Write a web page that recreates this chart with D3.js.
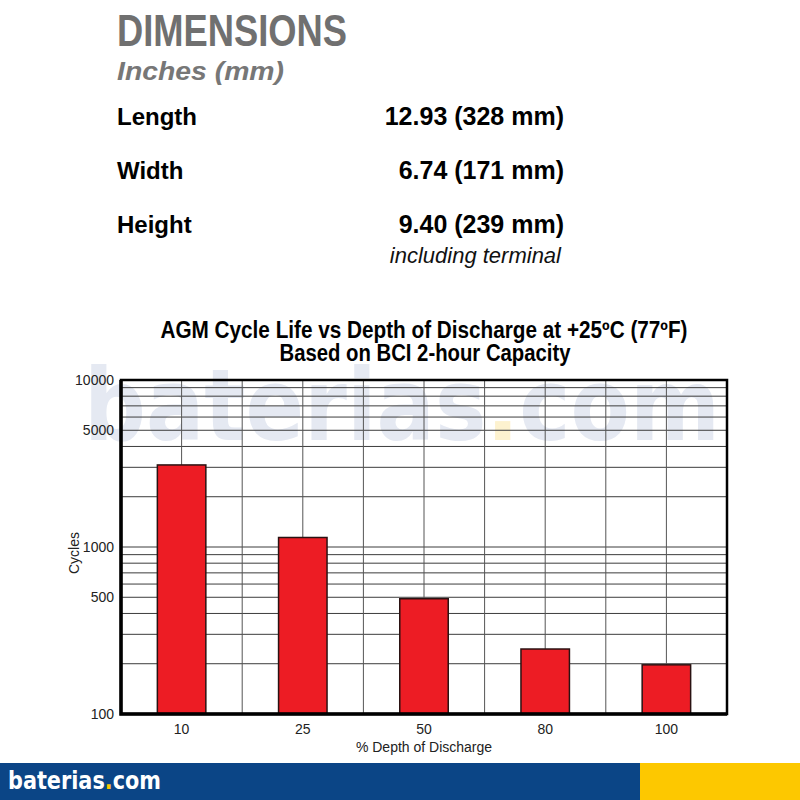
<!DOCTYPE html>
<html lang="es">
<head>
  <meta charset="utf-8" />
  <style>
    body { margin: 0; background: #fff; }
    svg { display: block; }
  </style>
</head>
<body>
<script src="https://cdn.jsdelivr.net/npm/d3@7"></script>
<script>

// data
const depth = ['10', '25', '50', '80', '100'];
const cycles = [3100, 1140, 490, 245, 197];
const yTickLabels = [100, 500, 1000, 5000, 10000];

const dimNames = ['Length', 'Width', 'Height'];
const dimValues = ['12.93 (328 mm)', '6.74 (171 mm)', '9.40 (239 mm)'];

const width = 800;
const height = 800;
const plot = { left: 121, right: 727, top: 380, bottom: 714 };

const narrow = '"Liberation Sans Narrow", "Arial Narrow", "Liberation Sans", sans-serif';
const arial = '"Liberation Sans", Arial, sans-serif';

const svg = d3.select('body')
  .append('svg')
  .attr('width', width)
  .attr('height', height);

// header block
svg.append('text')
  .attr('x', 117).attr('y', 46)
  .attr('font-family', arial).attr('font-weight', 'bold')
  .attr('font-size', 44).attr('fill', '#707070')
  .attr('textLength', 230).attr('lengthAdjust', 'spacingAndGlyphs')
  .text('DIMENSIONS');

svg.append('text')
  .attr('x', 117).attr('y', 80)
  .attr('font-family', arial).attr('font-weight', 'bold').attr('font-style', 'italic')
  .attr('font-size', 26).attr('fill', '#777')
  .attr('textLength', 167).attr('lengthAdjust', 'spacingAndGlyphs')
  .text('Inches (mm)');

dimNames.forEach((name, i) => {
  const yy = 125 + i * 54;
  svg.append('text')
    .attr('x', 117).attr('y', yy)
    .attr('font-family', arial).attr('font-weight', 'bold')
    .attr('font-size', 24).attr('fill', '#000')
    .text(name);
  svg.append('text')
    .attr('x', 564).attr('y', yy)
    .attr('text-anchor', 'end')
    .attr('font-family', arial).attr('font-weight', 'bold')
    .attr('font-size', 25).attr('fill', '#000')
    .text(dimValues[i]);
});

svg.append('text')
  .attr('x', 561).attr('y', 263)
  .attr('text-anchor', 'end')
  .attr('font-family', arial).attr('font-style', 'italic')
  .attr('font-size', 22).attr('fill', '#111')
  .text('including terminal');

// watermark behind the chart
const wm = svg.append('text')
  .attr('x', 84).attr('y', 440)
  .attr('font-family', '"DejaVu Sans", sans-serif').attr('font-weight', 'bold')
  .attr('font-size', 100).attr('fill', '#e5e9f2')
  .attr('textLength', 636).attr('lengthAdjust', 'spacingAndGlyphs');
wm.append('tspan').text('baterias');
wm.append('tspan').attr('fill', '#fdf2cf').text('.');
wm.append('tspan').text('com');

// chart title
svg.append('text')
  .attr('x', 424).attr('y', 338)
  .attr('text-anchor', 'middle')
  .attr('font-family', narrow).attr('font-weight', 'bold')
  .attr('font-size', 23).attr('fill', '#000')
  .attr('textLength', 527).attr('lengthAdjust', 'spacingAndGlyphs')
  .text('AGM Cycle Life vs Depth of Discharge at +25ºC (77ºF)');

svg.append('text')
  .attr('x', 425).attr('y', 361)
  .attr('text-anchor', 'middle')
  .attr('font-family', narrow).attr('font-weight', 'bold')
  .attr('font-size', 23).attr('fill', '#000')
  .attr('textLength', 291).attr('lengthAdjust', 'spacingAndGlyphs')
  .text('Based on BCI 2-hour Capacity');

// scales
const x = d3.scaleBand()
  .domain(depth)
  .range([plot.left, plot.right]);

const y = d3.scaleLog()
  .domain([100, 10000])
  .range([plot.bottom, plot.top]);

const g = svg.append('g');

// horizontal grid (every minor log step)
g.selectAll('line.hgrid')
  .data(y.ticks().filter(d => d > 100 && d < 10000))
  .enter()
  .append('line')
  .attr('class', 'hgrid')
  .attr('x1', plot.left).attr('x2', plot.right)
  .attr('y1', d => y(d)).attr('y2', d => y(d))
  .attr('stroke', '#3c3c3c').attr('stroke-width', 1);

// vertical grid at band edges and centres
const vlines = depth.slice(1).map(d => x(d)).concat(depth.map(d => x(d) + x.bandwidth() / 2));
g.selectAll('line.vgrid')
  .data(vlines)
  .enter()
  .append('line')
  .attr('class', 'vgrid')
  .attr('x1', d => d).attr('x2', d => d)
  .attr('y1', plot.top).attr('y2', plot.bottom)
  .attr('stroke', '#555').attr('stroke-width', 1);

// bars
const barW = x.bandwidth() * 0.4;
g.selectAll('rect.bar')
  .data(depth.map((d, i) => ({ depth: d, cycles: cycles[i] })))
  .enter()
  .append('rect')
  .attr('class', 'bar')
  .attr('x', d => x(d.depth) + (x.bandwidth() - barW) / 2)
  .attr('y', d => y(d.cycles))
  .attr('width', barW)
  .attr('height', d => plot.bottom - y(d.cycles))
  .attr('fill', '#ed1c24')
  .attr('stroke', '#2a1212').attr('stroke-width', 1.5);

// frame
g.append('rect')
  .attr('x', plot.left).attr('y', plot.top)
  .attr('width', plot.right - plot.left).attr('height', plot.bottom - plot.top)
  .attr('fill', 'none').attr('stroke', '#000').attr('stroke-width', 2.5);

g.append('path')
  .attr('d', `M${plot.left},${plot.top}V${plot.bottom}H${plot.right}`)
  .attr('fill', 'none').attr('stroke', '#000').attr('stroke-width', 3.5);

// axes
const yAxis = svg.append('g')
  .attr('transform', `translate(${plot.left - 2}, 0)`)
  .call(d3.axisLeft(y).tickValues(yTickLabels).tickFormat(d3.format('d')).tickSize(0).tickPadding(5));
yAxis.select('.domain').remove();
yAxis.selectAll('text')
  .attr('font-family', narrow).attr('font-size', 14).attr('fill', '#222');

const xAxis = svg.append('g')
  .attr('transform', `translate(0, ${plot.bottom + 2})`)
  .call(d3.axisBottom(x).tickSize(0).tickPadding(8));
xAxis.select('.domain').remove();
xAxis.selectAll('text')
  .attr('font-family', narrow).attr('font-size', 14).attr('fill', '#222');

svg.append('text')
  .attr('x', 424).attr('y', 752)
  .attr('text-anchor', 'middle')
  .attr('font-family', narrow).attr('font-size', 14).attr('fill', '#222')
  .text('% Depth of Discharge');

svg.append('text')
  .attr('transform', 'translate(79, 553) rotate(-90)')
  .attr('text-anchor', 'middle')
  .attr('font-family', narrow).attr('font-size', 14).attr('fill', '#222')
  .text('Cycles');

// footer banner
svg.append('rect')
  .attr('x', 0).attr('y', 763).attr('width', 640).attr('height', 37)
  .attr('fill', '#0b4586');
svg.append('rect')
  .attr('x', 640).attr('y', 763).attr('width', 160).attr('height', 37)
  .attr('fill', '#fdc800');

const logo = svg.append('text')
  .attr('x', 8).attr('y', 789)
  .attr('font-family', '"DejaVu Sans", sans-serif').attr('font-weight', 'bold')
  .attr('font-size', 25).attr('fill', '#fff')
  .attr('textLength', 153).attr('lengthAdjust', 'spacingAndGlyphs');
logo.append('tspan').text('baterias');
logo.append('tspan').attr('fill', '#fdc800').text('.');
logo.append('tspan').text('com');

</script>
</body>
</html>
